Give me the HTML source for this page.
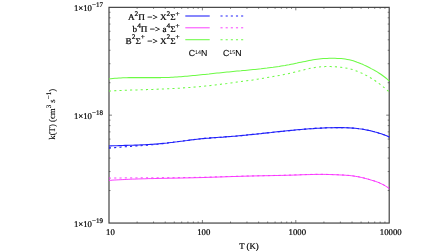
<!DOCTYPE html>
<html><head><meta charset="utf-8"><title>k(T)</title>
<style>
html,body{margin:0;padding:0;background:#fff;}
body{width:448px;height:252px;overflow:hidden;}
svg{display:block;}
text{font-family:"Liberation Serif",serif;font-size:8.75px;fill:#000;stroke:#000;stroke-width:0.2px;text-rendering:geometricPrecision;}
.sans{font-family:"Liberation Sans",sans-serif;stroke-width:0.1px;}
</style></head><body>
<svg width="448" height="252" viewBox="0 0 448 252">
<rect x="0" y="0" width="448" height="252" fill="#fff"/>
<path d="M137.12,223.0v-1.5M137.12,7.35v1.5M153.56,223.0v-1.5M153.56,7.35v1.5M165.23,223.0v-1.5M165.23,7.35v1.5M174.28,223.0v-1.5M174.28,7.35v1.5M181.68,223.0v-1.5M181.68,7.35v1.5M187.93,223.0v-1.5M187.93,7.35v1.5M193.35,223.0v-1.5M193.35,7.35v1.5M198.13,223.0v-1.5M198.13,7.35v1.5M202.40,223.0v-3.0M202.40,7.35v3.0M230.52,223.0v-1.5M230.52,7.35v1.5M246.96,223.0v-1.5M246.96,7.35v1.5M258.63,223.0v-1.5M258.63,7.35v1.5M267.68,223.0v-1.5M267.68,7.35v1.5M275.08,223.0v-1.5M275.08,7.35v1.5M281.33,223.0v-1.5M281.33,7.35v1.5M286.75,223.0v-1.5M286.75,7.35v1.5M291.53,223.0v-1.5M291.53,7.35v1.5M295.80,223.0v-3.0M295.80,7.35v3.0M323.92,223.0v-1.5M323.92,7.35v1.5M340.36,223.0v-1.5M340.36,7.35v1.5M352.03,223.0v-1.5M352.03,7.35v1.5M361.08,223.0v-1.5M361.08,7.35v1.5M368.48,223.0v-1.5M368.48,7.35v1.5M374.73,223.0v-1.5M374.73,7.35v1.5M380.15,223.0v-1.5M380.15,7.35v1.5M384.93,223.0v-1.5M384.93,7.35v1.5M109.0,190.54h1.5M389.2,190.54h-1.5M109.0,171.55h1.5M389.2,171.55h-1.5M109.0,158.08h1.5M389.2,158.08h-1.5M109.0,147.63h1.5M389.2,147.63h-1.5M109.0,139.10h1.5M389.2,139.10h-1.5M109.0,131.88h1.5M389.2,131.88h-1.5M109.0,125.62h1.5M389.2,125.62h-1.5M109.0,120.11h1.5M389.2,120.11h-1.5M109.0,115.17h3.0M389.2,115.17h-3.0M109.0,82.72h1.5M389.2,82.72h-1.5M109.0,63.73h1.5M389.2,63.73h-1.5M109.0,50.26h1.5M389.2,50.26h-1.5M109.0,39.81h1.5M389.2,39.81h-1.5M109.0,31.27h1.5M389.2,31.27h-1.5M109.0,24.05h1.5M389.2,24.05h-1.5M109.0,17.80h1.5M389.2,17.80h-1.5M109.0,12.28h1.5M389.2,12.28h-1.5" stroke="#000" stroke-width="0.5" fill="none"/>
<rect x="109.0" y="7.35" width="280.2" height="215.7" fill="none" stroke="#3c3c3c" stroke-width="1.15"/>
<g fill="none" stroke-width="1.2" stroke-linejoin="round">
<path d="M108.9,146.0 L110.9,145.9 L112.9,145.8 L114.9,145.8 L116.9,145.7 L118.9,145.6 L120.9,145.6 L122.9,145.5 L124.9,145.4 L126.9,145.4 L128.9,145.3 L130.9,145.3 L132.9,145.2 L134.9,145.1 L136.9,145.1 L138.9,145.0 L140.9,144.9 L142.9,144.8 L144.9,144.7 L146.9,144.6 L148.9,144.5 L150.9,144.4 L152.9,144.3 L154.9,144.1 L157.0,144.0 L159.0,143.8 L161.0,143.6 L163.0,143.4 L165.0,143.2 L167.0,143.0 L169.0,142.7 L171.0,142.5 L173.0,142.3 L175.0,142.0 L177.0,141.8 L179.0,141.5 L181.0,141.2 L183.0,141.0 L185.0,140.7 L187.0,140.5 L189.0,140.2 L191.0,139.9 L193.0,139.7 L195.0,139.5 L197.0,139.2 L199.0,139.0 L201.0,138.8 L203.0,138.6 L205.0,138.4 L207.0,138.2 L209.0,138.1 L211.0,137.9 L213.0,137.8 L215.0,137.6 L217.0,137.5 L219.0,137.3 L221.0,137.2 L223.0,137.1 L225.0,136.9 L227.0,136.8 L229.0,136.6 L231.0,136.5 L233.0,136.3 L235.0,136.2 L237.0,136.0 L239.0,135.8 L241.0,135.6 L243.0,135.4 L245.0,135.2 L247.0,135.0 L249.0,134.8 L251.1,134.6 L253.1,134.4 L255.1,134.2 L257.1,134.0 L259.1,133.8 L261.1,133.6 L263.1,133.3 L265.1,133.1 L267.1,132.9 L269.1,132.7 L271.1,132.5 L273.1,132.2 L275.1,132.0 L277.1,131.8 L279.1,131.6 L281.1,131.4 L283.1,131.2 L285.1,131.0 L287.1,130.8 L289.1,130.6 L291.1,130.4 L293.1,130.2 L295.1,130.0 L297.1,129.8 L299.1,129.6 L301.1,129.5 L303.1,129.3 L305.1,129.1 L307.1,129.0 L309.1,128.8 L311.1,128.7 L313.1,128.6 L315.1,128.4 L317.1,128.3 L319.1,128.2 L321.1,128.1 L323.1,128.0 L325.1,127.9 L327.1,127.8 L329.1,127.8 L331.1,127.7 L333.1,127.7 L335.1,127.6 L337.1,127.6 L339.1,127.6 L341.1,127.6 L343.2,127.6 L345.2,127.7 L347.2,127.8 L349.2,127.9 L351.2,128.0 L353.2,128.1 L355.2,128.3 L357.2,128.5 L359.2,128.8 L361.2,129.0 L363.2,129.3 L365.2,129.7 L367.2,130.1 L369.2,130.5 L371.2,130.9 L373.2,131.4 L375.2,132.0 L377.2,132.5 L379.2,133.2 L381.2,133.8 L383.2,134.5 L385.2,135.3 L387.2,136.1 L389.2,136.9" stroke="#2020fa" stroke-width="1.08"/>
<path d="M108.9,148.1 L110.9,147.9 L112.9,147.7 L114.9,147.6 L116.9,147.4 L118.9,147.2 L120.9,147.1 L122.9,146.9 L124.9,146.8 L126.9,146.6 L128.9,146.5 L130.9,146.4 L132.9,146.2 L134.9,146.1 L136.9,145.9 L138.9,145.8 L140.9,145.7 L142.9,145.5 L144.9,145.4 L146.9,145.2 L148.9,145.0 L150.9,144.8 L152.9,144.7 L154.9,144.5 L157.0,144.3 L159.0,144.1 L161.0,143.8 L163.0,143.6 L165.0,143.4 L167.0,143.1 L169.0,142.8 L171.0,142.6 L173.0,142.3 L175.0,142.0 L177.0,141.8 L179.0,141.5 L181.0,141.2 L183.0,141.0 L185.0,140.7 L187.0,140.4 L189.0,140.2 L191.0,139.9 L193.0,139.7 L195.0,139.4 L197.0,139.2 L199.0,139.0 L201.0,138.8 L203.0,138.6 L205.0,138.4 L207.0,138.3 L209.0,138.1 L211.0,137.9 L213.0,137.8 L215.0,137.6 L217.0,137.5 L219.0,137.4 L221.0,137.2 L223.0,137.1 L225.0,136.9 L227.0,136.8 L229.0,136.6 L231.0,136.5 L233.0,136.3 L235.0,136.2 L237.0,136.0 L239.0,135.8 L241.0,135.6 L243.0,135.4 L245.0,135.2 L247.0,135.0 L249.0,134.8 L251.1,134.6 L253.1,134.4 L255.1,134.2 L257.1,134.0 L259.1,133.8 L261.1,133.6 L263.1,133.3 L265.1,133.1 L267.1,132.9 L269.1,132.7 L271.1,132.5 L273.1,132.2 L275.1,132.0 L277.1,131.8 L279.1,131.6 L281.1,131.4 L283.1,131.2 L285.1,131.0 L287.1,130.8 L289.1,130.6 L291.1,130.4 L293.1,130.2 L295.1,130.0 L297.1,129.8 L299.1,129.6 L301.1,129.5 L303.1,129.3 L305.1,129.1 L307.1,129.0 L309.1,128.8 L311.1,128.7 L313.1,128.6 L315.1,128.4 L317.1,128.3 L319.1,128.2 L321.1,128.1 L323.1,128.0 L325.1,127.9 L327.1,127.8 L329.1,127.8 L331.1,127.7 L333.1,127.7 L335.1,127.6 L337.1,127.6 L339.1,127.6 L341.1,127.6 L343.2,127.6 L345.2,127.7 L347.2,127.8 L349.2,127.9 L351.2,128.0 L353.2,128.1 L355.2,128.3 L357.2,128.5 L359.2,128.8 L361.2,129.0 L363.2,129.3 L365.2,129.7 L367.2,130.1 L369.2,130.5 L371.2,130.9 L373.2,131.4 L375.2,132.0 L377.2,132.5 L379.2,133.2 L381.2,133.8 L383.2,134.5 L385.2,135.3 L387.2,136.1 L389.2,136.9" stroke="#2020fa" stroke-width="1.08" stroke-dasharray="2.1 3.2"/>
<path d="M108.9,180.4 L110.9,180.3 L112.9,180.1 L114.9,180.0 L116.9,179.9 L118.9,179.8 L120.9,179.7 L122.9,179.6 L124.9,179.5 L126.9,179.4 L128.9,179.3 L130.9,179.2 L132.9,179.1 L134.9,179.1 L136.9,179.0 L138.9,178.9 L140.9,178.9 L142.9,178.8 L144.9,178.8 L146.9,178.7 L148.9,178.6 L150.9,178.6 L152.9,178.6 L154.9,178.5 L157.0,178.5 L159.0,178.4 L161.0,178.4 L163.0,178.3 L165.0,178.3 L167.0,178.3 L169.0,178.2 L171.0,178.2 L173.0,178.2 L175.0,178.1 L177.0,178.1 L179.0,178.1 L181.0,178.0 L183.0,178.0 L185.0,177.9 L187.0,177.9 L189.0,177.9 L191.0,177.8 L193.0,177.8 L195.0,177.7 L197.0,177.7 L199.0,177.6 L201.0,177.6 L203.0,177.5 L205.0,177.5 L207.0,177.4 L209.0,177.3 L211.0,177.3 L213.0,177.2 L215.0,177.1 L217.0,177.1 L219.0,177.0 L221.0,176.9 L223.0,176.9 L225.0,176.8 L227.0,176.7 L229.0,176.7 L231.0,176.6 L233.0,176.5 L235.0,176.5 L237.0,176.4 L239.0,176.4 L241.0,176.3 L243.0,176.2 L245.0,176.2 L247.0,176.1 L249.0,176.1 L251.1,176.0 L253.1,176.0 L255.1,175.9 L257.1,175.9 L259.1,175.8 L261.1,175.8 L263.1,175.8 L265.1,175.7 L267.1,175.7 L269.1,175.7 L271.1,175.6 L273.1,175.6 L275.1,175.5 L277.1,175.5 L279.1,175.5 L281.1,175.4 L283.1,175.4 L285.1,175.3 L287.1,175.3 L289.1,175.2 L291.1,175.2 L293.1,175.1 L295.1,175.0 L297.1,175.0 L299.1,174.9 L301.1,174.8 L303.1,174.7 L305.1,174.7 L307.1,174.6 L309.1,174.6 L311.1,174.5 L313.1,174.5 L315.1,174.4 L317.1,174.4 L319.1,174.4 L321.1,174.4 L323.1,174.4 L325.1,174.4 L327.1,174.5 L329.1,174.5 L331.1,174.6 L333.1,174.7 L335.1,174.7 L337.1,174.8 L339.1,174.9 L341.1,175.0 L343.2,175.1 L345.2,175.2 L347.2,175.4 L349.2,175.5 L351.2,175.7 L353.2,176.0 L355.2,176.3 L357.2,176.6 L359.2,177.0 L361.2,177.4 L363.2,177.9 L365.2,178.4 L367.2,178.9 L369.2,179.5 L371.2,180.1 L373.2,180.7 L375.2,181.3 L377.2,182.0 L379.2,182.8 L381.2,183.7 L383.2,184.7 L385.2,185.8 L387.2,187.1 L389.2,188.6" stroke="#fa30ff" stroke-width="0.92"/>
<path d="M108.9,178.1 L110.9,178.1 L112.9,178.0 L114.9,178.0 L116.9,178.0 L118.9,178.0 L120.9,178.0 L122.9,177.9 L124.9,177.9 L126.9,177.9 L128.9,177.9 L130.9,177.9 L132.9,177.9 L134.9,177.9 L136.9,177.9 L138.9,177.8 L140.9,177.8 L142.9,177.8 L144.9,177.8 L146.9,177.8 L148.9,177.8 L150.9,177.8 L152.9,177.8 L154.9,177.8 L157.0,177.8 L159.0,177.8 L161.0,177.7 L163.0,177.7 L165.0,177.7 L167.0,177.7 L169.0,177.7 L171.0,177.7 L173.0,177.7 L175.0,177.7 L177.0,177.6 L179.0,177.6 L181.0,177.6 L183.0,177.6 L185.0,177.5 L187.0,177.5 L189.0,177.5 L191.0,177.5 L193.0,177.4 L195.0,177.4 L197.0,177.4 L199.0,177.3 L201.0,177.3 L203.0,177.2 L205.0,177.2 L207.0,177.1 L209.0,177.1 L211.0,177.0 L213.0,177.0 L215.0,176.9 L217.0,176.9 L219.0,176.8 L221.0,176.8 L223.0,176.7 L225.0,176.6 L227.0,176.6 L229.0,176.5 L231.0,176.5 L233.0,176.4 L235.0,176.3 L237.0,176.3 L239.0,176.2 L241.0,176.2 L243.0,176.1 L245.0,176.1 L247.0,176.0 L249.0,176.0 L251.1,175.9 L253.1,175.9 L255.1,175.8 L257.1,175.8 L259.1,175.8 L261.1,175.7 L263.1,175.7 L265.1,175.6 L267.1,175.6 L269.1,175.6 L271.1,175.5 L273.1,175.5 L275.1,175.4 L277.1,175.4 L279.1,175.4 L281.1,175.3 L283.1,175.3 L285.1,175.2 L287.1,175.2 L289.1,175.1 L291.1,175.1 L293.1,175.0 L295.1,174.9 L297.1,174.9 L299.1,174.8 L301.1,174.7 L303.1,174.6 L305.1,174.6 L307.1,174.5 L309.1,174.5 L311.1,174.4 L313.1,174.4 L315.1,174.3 L317.1,174.3 L319.1,174.3 L321.1,174.3 L323.1,174.3 L325.1,174.3 L327.1,174.4 L329.1,174.4 L331.1,174.5 L333.1,174.6 L335.1,174.6 L337.1,174.7 L339.1,174.8 L341.1,174.9 L343.2,175.0 L345.2,175.1 L347.2,175.3 L349.2,175.4 L351.2,175.6 L353.2,175.9 L355.2,176.2 L357.2,176.5 L359.2,176.9 L361.2,177.3 L363.2,177.8 L365.2,178.3 L367.2,178.8 L369.2,179.4 L371.2,180.0 L373.2,180.6 L375.2,181.2 L377.2,181.9 L379.2,182.7 L381.2,183.6 L383.2,184.6 L385.2,185.7 L387.2,187.0 L389.2,188.5" stroke="#fa30ff" stroke-width="0.92" stroke-dasharray="2.1 3.2"/>
<path d="M108.9,78.9 L110.9,78.7 L112.9,78.5 L114.9,78.3 L116.9,78.2 L118.9,78.0 L120.9,77.9 L122.9,77.8 L124.9,77.8 L126.9,77.7 L128.9,77.6 L130.9,77.6 L132.9,77.6 L134.9,77.6 L136.9,77.6 L138.9,77.6 L140.9,77.6 L142.9,77.6 L144.9,77.6 L146.9,77.6 L148.9,77.6 L150.9,77.6 L152.9,77.6 L154.9,77.6 L157.0,77.6 L159.0,77.6 L161.0,77.6 L163.0,77.5 L165.0,77.5 L167.0,77.4 L169.0,77.4 L171.0,77.3 L173.0,77.2 L175.0,77.1 L177.0,77.0 L179.0,76.8 L181.0,76.7 L183.0,76.5 L185.0,76.3 L187.0,76.2 L189.0,76.0 L191.0,75.8 L193.0,75.6 L195.0,75.4 L197.0,75.2 L199.0,75.0 L201.0,74.8 L203.0,74.6 L205.0,74.4 L207.0,74.2 L209.0,74.0 L211.0,73.7 L213.0,73.5 L215.0,73.3 L217.0,73.1 L219.0,72.9 L221.0,72.7 L223.0,72.5 L225.0,72.3 L227.0,72.1 L229.0,71.9 L231.0,71.7 L233.0,71.5 L235.0,71.3 L237.0,71.1 L239.0,70.9 L241.0,70.8 L243.0,70.6 L245.0,70.4 L247.0,70.2 L249.0,70.0 L251.1,69.8 L253.1,69.6 L255.1,69.4 L257.1,69.2 L259.1,69.0 L261.1,68.8 L263.1,68.5 L265.1,68.3 L267.1,68.1 L269.1,67.8 L271.1,67.5 L273.1,67.3 L275.1,67.0 L277.1,66.7 L279.1,66.4 L281.1,66.0 L283.1,65.7 L285.1,65.4 L287.1,65.0 L289.1,64.7 L291.1,64.3 L293.1,63.9 L295.1,63.5 L297.1,63.1 L299.1,62.6 L301.1,62.2 L303.1,61.8 L305.1,61.4 L307.1,61.0 L309.1,60.6 L311.1,60.2 L313.1,59.8 L315.1,59.5 L317.1,59.2 L319.1,59.0 L321.1,58.8 L323.1,58.6 L325.1,58.5 L327.1,58.4 L329.1,58.3 L331.1,58.3 L333.1,58.3 L335.1,58.3 L337.1,58.4 L339.1,58.5 L341.1,58.6 L343.2,58.8 L345.2,59.1 L347.2,59.4 L349.2,59.8 L351.2,60.3 L353.2,60.8 L355.2,61.4 L357.2,62.2 L359.2,62.9 L361.2,63.8 L363.2,64.6 L365.2,65.6 L367.2,66.5 L369.2,67.5 L371.2,68.6 L373.2,69.6 L375.2,70.8 L377.2,71.9 L379.2,73.2 L381.2,74.5 L383.2,76.0 L385.2,77.5 L387.2,79.2 L389.2,81.0" stroke="#6cfa44" stroke-width="1.05"/>
<path d="M108.9,91.0 L110.9,90.9 L112.9,90.8 L114.9,90.7 L116.9,90.6 L118.9,90.6 L120.9,90.5 L122.9,90.4 L124.9,90.3 L126.9,90.3 L128.9,90.2 L130.9,90.1 L132.9,90.0 L134.9,90.0 L136.9,89.9 L138.9,89.8 L140.9,89.8 L142.9,89.7 L144.9,89.6 L146.9,89.6 L148.9,89.5 L150.9,89.4 L152.9,89.4 L154.9,89.3 L157.0,89.2 L159.0,89.1 L161.0,89.1 L163.0,89.0 L165.0,88.9 L167.0,88.8 L169.0,88.7 L171.0,88.6 L173.0,88.5 L175.0,88.4 L177.0,88.3 L179.0,88.2 L181.0,88.1 L183.0,87.9 L185.0,87.8 L187.0,87.7 L189.0,87.5 L191.0,87.4 L193.0,87.2 L195.0,87.0 L197.0,86.9 L199.0,86.7 L201.0,86.5 L203.0,86.3 L205.0,86.1 L207.0,85.9 L209.0,85.7 L211.0,85.4 L213.0,85.2 L215.0,85.0 L217.0,84.7 L219.0,84.5 L221.0,84.2 L223.0,84.0 L225.0,83.7 L227.0,83.5 L229.0,83.2 L231.0,82.9 L233.0,82.7 L235.0,82.4 L237.0,82.1 L239.0,81.9 L241.0,81.6 L243.0,81.3 L245.0,81.0 L247.0,80.7 L249.0,80.4 L251.1,80.2 L253.1,79.9 L255.1,79.6 L257.1,79.2 L259.1,78.9 L261.1,78.6 L263.1,78.3 L265.1,78.0 L267.1,77.6 L269.1,77.3 L271.1,77.0 L273.1,76.6 L275.1,76.2 L277.1,75.9 L279.1,75.5 L281.1,75.1 L283.1,74.7 L285.1,74.3 L287.1,73.9 L289.1,73.4 L291.1,73.0 L293.1,72.5 L295.1,72.0 L297.1,71.5 L299.1,71.0 L301.1,70.5 L303.1,70.0 L305.1,69.5 L307.1,69.0 L309.1,68.6 L311.1,68.1 L313.1,67.8 L315.1,67.4 L317.1,67.2 L319.1,66.9 L321.1,66.8 L323.1,66.6 L325.1,66.6 L327.1,66.5 L329.1,66.5 L331.1,66.6 L333.1,66.6 L335.1,66.7 L337.1,66.9 L339.1,67.1 L341.1,67.3 L343.2,67.6 L345.2,67.9 L347.2,68.3 L349.2,68.7 L351.2,69.2 L353.2,69.8 L355.2,70.5 L357.2,71.2 L359.2,72.0 L361.2,72.9 L363.2,73.9 L365.2,74.9 L367.2,75.9 L369.2,77.1 L371.2,78.3 L373.2,79.5 L375.2,80.8 L377.2,82.2 L379.2,83.7 L381.2,85.2 L383.2,86.8 L385.2,88.5 L387.2,90.2 L389.2,92.0" stroke="#6cfa44" stroke-width="1.05" stroke-dasharray="2.1 3.2"/>
<path d="M185.3,16H209.7" stroke="#2020fa" stroke-width="1.08"/>
<path d="M220.5,16H243.2" stroke="#2020fa" stroke-width="1.08" stroke-dasharray="2.1 3.05"/>
<path d="M185.3,27.8H209.7" stroke="#fa30ff" stroke-width="0.92"/>
<path d="M220.5,27.8H243.2" stroke="#fa30ff" stroke-width="0.92" stroke-dasharray="2.1 3.05"/>
<path d="M185.3,39.7H209.7" stroke="#6cfa44" stroke-width="1.05"/>
<path d="M220.5,39.7H243.2" stroke="#6cfa44" stroke-width="1.05" stroke-dasharray="2.1 3.05"/>
</g>
<text x="73.9" y="11.1">1×10<tspan dy="-4.1" font-size="7">−17</tspan></text>
<text x="73.9" y="118.8">1×10<tspan dy="-4.1" font-size="7">−18</tspan></text>
<text x="73.9" y="226.7">1×10<tspan dy="-4.1" font-size="7">−19</tspan></text>
<text x="110.4" y="234.8" text-anchor="middle">10</text>
<text x="203.8" y="234.8" text-anchor="middle">100</text>
<text x="297.3" y="234.8" text-anchor="middle">1000</text>
<text x="390.7" y="234.8" text-anchor="middle">10000</text>
<text x="248.9" y="248.5" text-anchor="middle">T (K)</text>
<text transform="translate(54.7,114.3) rotate(-90)" text-anchor="middle" style="stroke-width:0.1px">k(T) (cm<tspan dy="-4.1" font-size="7">3</tspan><tspan dy="4.1"> s</tspan><tspan dy="-4.1" font-size="7">−1</tspan><tspan dy="4.1">)</tspan></text>
<text transform="translate(179.7,20) scale(1.05,1)" text-anchor="end">A<tspan dy="-4.1" font-size="7">2</tspan><tspan dy="4.1">Π −&gt; X</tspan><tspan dy="-4.1" font-size="7">2</tspan><tspan dy="4.1">Σ</tspan><tspan dy="-4.1" font-size="7">+</tspan></text>
<text transform="translate(179.7,31.7) scale(1.05,1)" text-anchor="end">b<tspan dy="-4.1" font-size="7">4</tspan><tspan dy="4.1">Π −&gt; a</tspan><tspan dy="-4.1" font-size="7">4</tspan><tspan dy="4.1">Σ</tspan><tspan dy="-4.1" font-size="7">+</tspan></text>
<text transform="translate(179.7,43.5) scale(1.05,1)" text-anchor="end">B<tspan dy="-4.1" font-size="7">2</tspan><tspan dy="4.1">Σ</tspan><tspan dy="-4.1" font-size="7">+</tspan><tspan dy="4.1"> −&gt; X</tspan><tspan dy="-4.1" font-size="7">2</tspan><tspan dy="4.1">Σ</tspan><tspan dy="-4.1" font-size="7">+</tspan></text>
<text class="sans" x="198" y="55.7" text-anchor="middle">C<tspan dy="-1.5" font-size="5.3" style="stroke:none">14</tspan><tspan dy="1.5">N</tspan></text>
<text class="sans" x="232.2" y="55.7" text-anchor="middle">C<tspan dy="-1.5" font-size="5.3" style="stroke:none">15</tspan><tspan dy="1.5">N</tspan></text>
</svg>
</body></html>
